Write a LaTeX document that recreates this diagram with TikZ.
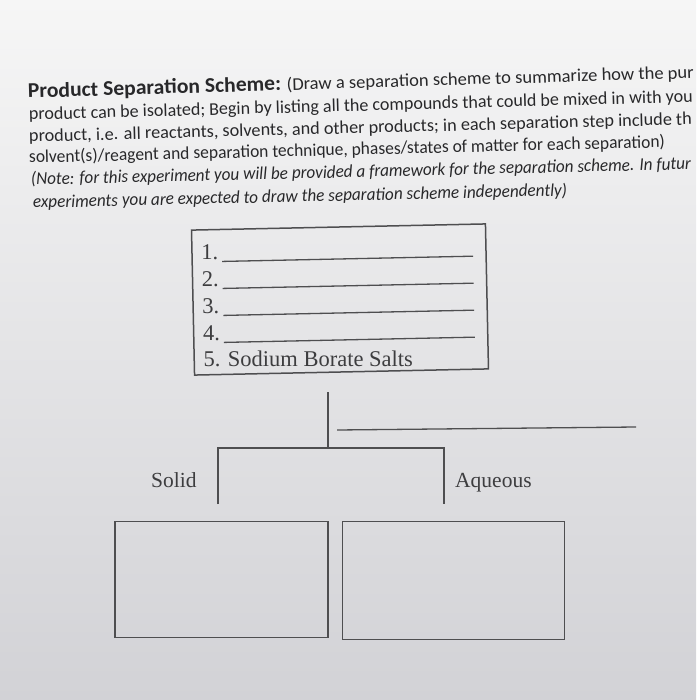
\documentclass[tikz,border=0pt]{standalone}
\usepackage{fontspec}
\setmainfont{Liberation Serif}
\newfontfamily\headfont{Carlito}
\definecolor{papel}{RGB}{246,246,246}
\definecolor{papelgris}{RGB}{210,210,214}
\definecolor{linea}{RGB}{78,78,80}
\definecolor{tinta}{RGB}{40,40,42}

\begin{document}
\begin{tikzpicture}[x=1pt, y=-1pt,
    caja/.style={draw=linea, line width=1.5pt, minimum width=213pt, minimum height=116pt, inner sep=0pt},
    raya/.style={draw=linea, line width=1.3pt},
    cabecera/.style={anchor=base west, inner sep=0pt, rotate=#1, text=tinta, font=\headfont\fontsize{18}{21}\selectfont},
    nota/.style={cabecera=#1, font=\headfont\itshape\fontsize{18}{21}\selectfont},
    item/.style={anchor=base west, inner sep=0pt, text=tinta!90, font=\fontsize{22.5}{26}\selectfont},
    fase/.style={anchor=base west, inner sep=0pt, text=tinta!90, font=\fontsize{21.5}{26}\selectfont}
]
\useasboundingbox (0,0) rectangle (696,700);
\shade[top color=papel, bottom color=papelgris] (0,0) rectangle (696,700);

% Encabezado
\node[cabecera=1.7] (l1) at (28,98) {\resizebox{666pt}{\height}{{\bfseries\fontsize{21}{21}\selectfont Product Separation Scheme:} (Draw a separation scheme to summarize how the pur}};
\node[cabecera=1.55] (l2) at (29,120) {\resizebox{664pt}{\height}{product can be isolated; Begin by listing all the compounds that could be mixed in with you}};
\node[cabecera=1.5] (l3) at (29,142) {\resizebox{663pt}{\height}{product, i.e. all reactants, solvents, and other products; in each separation step include th}};
\node[cabecera=1.4] (l4) at (29,163) {\resizebox{636pt}{\height}{solvent(s)/reagent and separation technique, phases/states of matter for each separation)}};
\node[nota=1.35] (l5) at (31,185) {\resizebox{660pt}{\height}{(Note: for this experiment you will be provided a framework for the separation scheme. In futur}};
\node[nota=1.3] (l6) at (33,208) {\resizebox{534pt}{\height}{experiments you are expected to draw the separation scheme independently)}};

% Lista de compuestos
\begin{scope}[rotate around={1.2:(340,300)}]
\draw[raya, line width=1.5pt] (193,227) rectangle (487,372);
\foreach \n/\y in {1/257, 2/284, 3/311, 4/338} {
  \node[item] (i\n) at (202,\y) {\n.};
  \coordinate (a\n) at (223,\y+2);
  \coordinate (b\n) at (474,\y+2);
  \draw[raya] (a\n) -- (b\n);
}
\node[item] (i5) at (202,364) {5. Sodium Borate Salts};
\end{scope}

% Arbol de separacion
\coordinate (tope) at (328,392);
\coordinate (nudo) at (328,448);
\coordinate (izq) at (218,448);
\coordinate (der) at (444,448);
\coordinate (izqb) at (218,504);
\coordinate (derb) at (444,504);
\coordinate (r1) at (337,430);
\coordinate (r2) at (636,427);
\draw[raya] (tope) -- (nudo);
\draw[raya] (r1) -- (r2);
\draw[raya] (izqb) -- (izq) -- (der) -- (derb);

\node[fase] (solido) at (151,487) {Solid};
\node[fase] (acuoso) at (455,487) {Aqueous};

\node[caja] (csolido) at (221.5,579.5) {};
\node[caja, minimum width=222pt, minimum height=118pt] (cacuoso) at (453.5,580.5) {};

\end{tikzpicture}
\end{document}
